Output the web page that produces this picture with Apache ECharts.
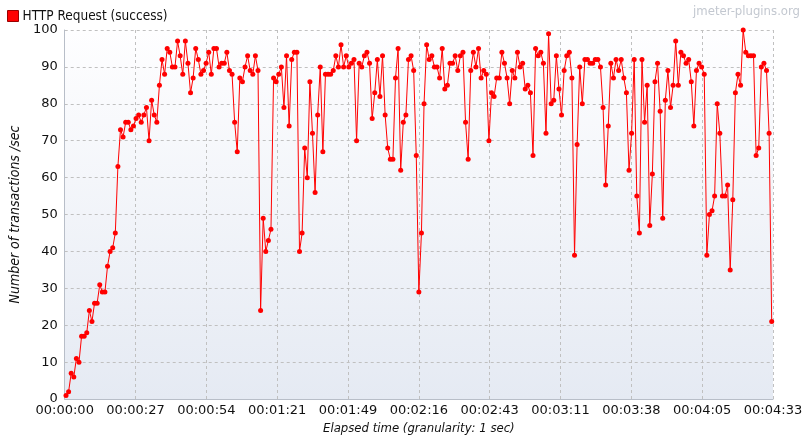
<!DOCTYPE html>
<html>
<head>
<meta charset="utf-8">
<script src="https://cdn.jsdelivr.net/npm/echarts@6/dist/echarts.min.js"></script>
<style>
html,body{margin:0;padding:0;background:#fff;}
#chart{width:806px;height:440px;}
</style>
</head>
<body>
<div id="chart"></div>
<script>
// Transactions per second, one value per elapsed second
const successValues = [
  1,2,7,6,11,10,17,17,18,24,21,26,26,31,29,29,36,40,41,45,63,73,71,75,75,73,74,
  76,77,75,77,79,70,81,77,75,85,92,88,95,94,90,90,97,93,88,97,91,83,87,95,92,88,89,
  91,94,88,95,95,90,91,91,94,89,88,75,67,87,86,90,93,89,88,93,89,24,49,40,43,46,87,
  86,88,90,79,93,74,92,94,94,40,45,68,60,86,72,56,77,90,67,88,88,88,89,93,90,96,90,93,
  90,91,92,70,91,90,93,94,91,76,83,92,82,93,77,68,65,65,87,95,62,75,77,92,93,89,66,29,
  45,80,96,92,93,90,90,87,95,84,85,91,91,93,89,93,94,75,65,89,94,90,95,87,89,88,70,83,
  82,87,87,94,91,87,80,89,87,94,90,91,84,85,83,66,95,93,94,91,72,99,80,81,93,84,77,
  89,93,94,87,39,69,90,80,92,92,91,91,92,92,90,79,58,74,91,87,92,89,92,87,83,62,72,92,
  55,45,92,75,85,47,61,86,91,78,49,81,89,79,85,97,85,94,93,91,92,86,74,89,91,90,88,
  39,50,51,55,80,72,55,55,58,35,54,83,88,85,100,94,93,93,93,66,68,90,91,89,72,21
];
const xTickLabels = ['00:00:00','00:00:27','00:00:54','00:01:21','00:01:49','00:02:16',
  '00:02:43','00:03:11','00:03:38','00:04:05','00:04:33'];
const xMax = 273;
const seriesName = 'HTTP Request (success)';

const xStep = xMax / (xTickLabels.length - 1);
const points = successValues.map((v, i) => [i + 0.5, v]);

const chart = echarts.init(document.getElementById('chart'), null, {renderer: 'canvas'});
const font = 'DejaVu Sans';
const cond = 'DejaVu Sans Condensed';
chart.setOption({
  animation: false,
  backgroundColor: '#ffffff',
  textStyle: {fontFamily: font},
  graphic: [{
    type: 'text', right: 6, top: 5,
    style: {text: 'jmeter-plugins.org', fill: '#c3c8d0', font: '13px "DejaVu Sans Condensed"'}
  }],
  legend: {
    left: 2, top: 4,
    icon: 'rect', itemWidth: 11, itemHeight: 11, itemGap: 10,
    textStyle: {fontSize: 13.5, color: '#111', fontFamily: cond, padding: [0, 0, 0, -1]},
    itemStyle: {borderColor: '#990000', borderWidth: 1},
    data: [seriesName]
  },
  grid: {
    left: 59, right: 33, top: 30, bottom: 40,
    show: true, borderWidth: 0,
    backgroundColor: {
      type: 'linear', x: 0, y: 0, x2: 0, y2: 1,
      colorStops: [{offset: 0, color: '#fefeff'}, {offset: 1, color: '#e5eaf3'}]
    }
  },
  xAxis: {
    type: 'value', min: 0, max: xMax, interval: xStep,
    name: 'Elapsed time (granularity: 1 sec)',
    nameLocation: 'middle', nameGap: 22,
    nameTextStyle: {fontStyle: 'italic', fontSize: 13, color: '#111', fontFamily: cond},
    axisLine: {show: true, lineStyle: {color: '#b8bec8', width: 1}},
    axisTick: {show: false},
    axisLabel: {
      fontSize: 13, color: '#111', margin: 5, fontFamily: font,
      formatter: v => xTickLabels[Math.round(v / xStep)] || ''
    },
    splitLine: {show: true, lineStyle: {color: '#c0c0c0', type: [3, 3], width: 1}}
  },
  yAxis: {
    type: 'value', min: 0, max: 100, interval: 10,
    name: 'Number of transactions /sec',
    nameLocation: 'middle', nameGap: 41,
    nameTextStyle: {fontStyle: 'italic', fontSize: 14, color: '#111', fontFamily: cond},
    axisLine: {show: true, lineStyle: {color: '#b8bec8', width: 1}},
    axisTick: {show: false},
    axisLabel: {fontSize: 13, color: '#111', margin: 7, fontFamily: font},
    splitLine: {show: true, lineStyle: {color: '#c0c0c0', type: [3, 3], width: 1}}
  },
  series: [{
    name: seriesName,
    type: 'line',
    data: points,
    color: '#ff0000',
    lineStyle: {color: '#ff0000', width: 1},
    itemStyle: {color: '#ff0000'},
    symbol: 'circle', symbolSize: 5,
    showAllSymbol: true
  }]
});
</script>
</body>
</html>
